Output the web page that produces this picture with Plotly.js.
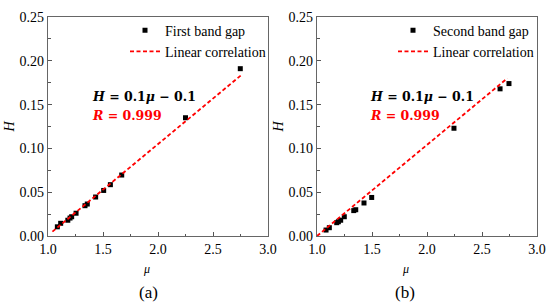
<!DOCTYPE html>
<html><head><meta charset="utf-8">
<script src="https://cdn.plot.ly/plotly-3.0.1.min.js"></script>
<style>html,body{margin:0;padding:0;background:#fff}#c{width:550px;height:305px}</style>
</head><body><div id="c"></div>
<script>
// Panel (a): first band gap
const muA = [1.085, 1.115, 1.18, 1.20, 1.215, 1.255, 1.336, 1.357, 1.433, 1.506, 1.567, 1.67, 2.25, 2.748];
const hA  = [0.0105, 0.0145, 0.018, 0.0205, 0.022, 0.026, 0.0346, 0.0365, 0.0445, 0.052, 0.0586, 0.0696, 0.135, 0.191];
const fitMuA = [1.04, 2.76];
const fitHA  = [0.005, 0.184];
// Panel (b): second band gap
const muB = [1.082, 1.112, 1.179, 1.194, 1.215, 1.248, 1.334, 1.352, 1.427, 1.497, 2.245, 2.664, 2.745];
const hB  = [0.0068, 0.0095, 0.0152, 0.0163, 0.018, 0.022, 0.029, 0.030, 0.0377, 0.044, 0.123, 0.168, 0.174];
const fitMuB = [1.0, 2.73];
const fitHB  = [0.0, 0.180];
const seriesNames = ['First band gap', 'Second band gap', 'Linear correlation'];
const panelLabels = ['(a)', '(b)'];
const eqText = '<b><i>H</i> = 0.1<i>μ</i> − 0.1</b>';
const rText = '<b><i>R</i> = 0.999</b>';

const serif = '"Liberation Serif", "Times New Roman", serif';
const mathFont = '"DejaVu Serif", serif';
const mark = {symbol: 'square', size: 5, color: '#000'};
const fitLine = {color: '#ff0000', width: 1.8, dash: '4px,2.5px'};

const traces = [
  {x: muA, y: hA, type: 'scatter', mode: 'markers', marker: mark, name: seriesNames[0], xaxis: 'x', yaxis: 'y', legend: 'legend'},
  {x: fitMuA, y: fitHA, type: 'scatter', mode: 'lines', line: fitLine, name: seriesNames[2], xaxis: 'x', yaxis: 'y', legend: 'legend'},
  {x: muB, y: hB, type: 'scatter', mode: 'markers', marker: mark, name: seriesNames[1], xaxis: 'x2', yaxis: 'y2', legend: 'legend2'},
  {x: fitMuB, y: fitHB, type: 'scatter', mode: 'lines', line: fitLine, name: seriesNames[2], xaxis: 'x2', yaxis: 'y2', legend: 'legend2'}
];

function xax(domain, anchor) {
  return {domain: domain, anchor: anchor, range: [1.0, 3.0], tickvals: [1.0, 1.5, 2.0, 2.5, 3.0], tickformat: '.1f',
    ticks: 'inside', ticklen: 4, tickcolor: '#555', showline: true, linecolor: '#666', linewidth: 1.2, mirror: true,
    showgrid: false, zeroline: false, tickfont: {family: serif, size: 14, color: '#000'},
    minor: {ticks: 'inside', ticklen: 2.5, dtick: 0.25, tickcolor: '#555', showgrid: false}};
}
function yax(anchor) {
  return {domain: [0.2262, 0.9443], anchor: anchor, range: [0, 0.25], tickvals: [0, 0.05, 0.1, 0.15, 0.2, 0.25], tickformat: '.2f',
    ticks: 'inside', ticklen: 4, tickcolor: '#555', showline: true, linecolor: '#666', linewidth: 1.2, mirror: true,
    showgrid: false, zeroline: false, tickfont: {family: serif, size: 14, color: '#000'},
    minor: {ticks: 'inside', ticklen: 2.5, dtick: 0.025, tickcolor: '#555', showgrid: false},
    title: {text: '<i>H</i>', font: {family: serif, size: 14, color: '#000'}, standoff: 1}};
}

const legBase = {bgcolor: 'rgba(0,0,0,0)', borderwidth: 0, font: {family: serif, size: 14, color: '#000'},
  itemwidth: 30, tracegroupgap: 0, yanchor: 'top', xanchor: 'left'};

const eqFont = {family: mathFont, size: 12.5, color: '#000'};
const rFont = {family: mathFont, size: 12.5, color: '#ff0000'};
const lblFont = {family: serif, size: 17, color: '#000'};
const muFont = {family: serif, size: 12, color: '#000'};

function paperNote(text, px, py, font) {
  return {text: text, xref: 'paper', yref: 'paper', x: px / 550, y: 1 - py / 305,
    xanchor: 'center', yanchor: 'middle', showarrow: false, font: font};
}

const layout = {
  width: 550, height: 305, margin: {l: 0, r: 0, t: 0, b: 0},
  font: {family: serif, color: '#000'},
  paper_bgcolor: '#fff', plot_bgcolor: '#fff', showlegend: true,
  xaxis: xax([0.0873, 0.4873], 'y'), yaxis: yax('x'),
  xaxis2: xax([0.5764, 0.9764], 'y2'), yaxis2: yax('x2'),
  legend: Object.assign({}, legBase, {x: 125 / 550, y: 0.952}),
  legend2: Object.assign({}, legBase, {x: 393 / 550, y: 0.952}),
  annotations: [
    {text: eqText, xref: 'x', yref: 'y', x: 1.38, y: 0.1587, xanchor: 'left', yanchor: 'middle', showarrow: false, font: eqFont},
    {text: rText, xref: 'x', yref: 'y', x: 1.38, y: 0.138, xanchor: 'left', yanchor: 'middle', showarrow: false, font: rFont},
    {text: eqText, xref: 'x2', yref: 'y2', x: 1.46, y: 0.1587, xanchor: 'left', yanchor: 'middle', showarrow: false, font: eqFont},
    {text: rText, xref: 'x2', yref: 'y2', x: 1.46, y: 0.138, xanchor: 'left', yanchor: 'middle', showarrow: false, font: rFont},
    paperNote('<i>μ</i>', 146, 269, muFont),
    paperNote('<i>μ</i>', 405, 269, muFont),
    paperNote(panelLabels[0], 148, 292, lblFont),
    paperNote(panelLabels[1], 405, 292, lblFont)
  ]
};

Plotly.newPlot('c', traces, layout, {displayModeBar: false, staticPlot: true});
</script></body></html>
